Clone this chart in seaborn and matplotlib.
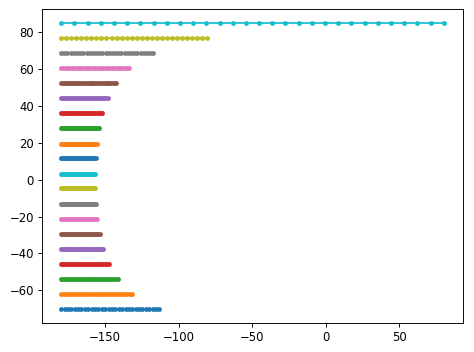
import numpy as np
import pandas as pd
import matplotlib
matplotlib.use('Agg')
import matplotlib.pyplot as plt
import seaborn as sns

# 위도별 선: 시작 경도 -180, 끝 경도는 그림에서 읽은 값
lats = [-70, -61.8, -53.7, -45.5, -37.4, -29.2, -21.1, -12.9, -4.7, 3.4,
        11.6, 19.7, 27.9, 36.1, 44.2, 52.4, 60.5, 68.7, 76.8, 85]
start_lon = -180
end_lons = [-113.2, -131.6, -141.4, -147.4, -151.3, -153.8, -155.5, -156.5, -157.1, -157.2,
            -156.6, -155.9, -154.2, -151.9, -148.4, -142.7, -133.6, -117.4, -80.7, 80.2]
n_points = 30  # 선마다 점 30개

rows = []
for i, (lat, end) in enumerate(zip(lats, end_lons)):
    for lon in np.linspace(start_lon, end, n_points):
        rows.append({'line': i, 'lon': lon, 'lat': lat})
df = pd.DataFrame(rows)

dpi = 84
fig = plt.figure(figsize=(474 / dpi, 352 / dpi), dpi=dpi)
ax = fig.add_axes([42 / 474, 1 - 323 / 352, 421 / 474, 314 / 352])

colors = sns.color_palette('tab10', 10)
for i in range(len(lats)):
    c = colors[i % 10]
    sns.lineplot(data=df[df['line'] == i], x='lon', y='lat', ax=ax, color=c,
                 marker='o', markersize=3.6, markeredgecolor=c, markeredgewidth=0.5,
                 linewidth=1.5, sort=False, legend=False)

ax.set_xlabel('')
ax.set_ylabel('')
ax.tick_params(labelsize=10)
fig.savefig('out.png', dpi=dpi)
